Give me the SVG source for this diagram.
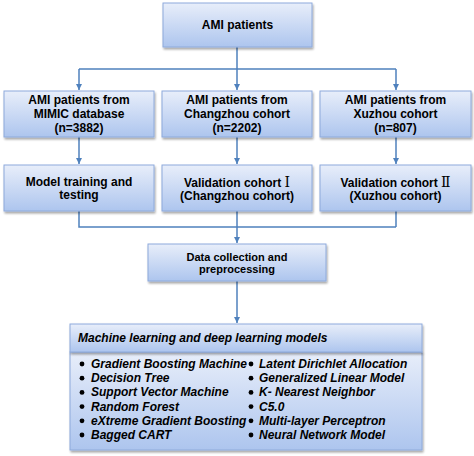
<svg xmlns="http://www.w3.org/2000/svg" width="474" height="456" viewBox="0 0 474 456">
<defs>
<linearGradient id="g" x1="0" y1="0" x2="0" y2="1">
<stop offset="0" stop-color="#e8eefa"/>
<stop offset="1" stop-color="#adc5ee"/>
</linearGradient>
<filter id="sh" x="-10%" y="-10%" width="120%" height="130%">
<feGaussianBlur in="SourceAlpha" stdDeviation="1"/>
<feOffset dx="1" dy="1.5" result="b"/>
<feComponentTransfer><feFuncA type="linear" slope="0.35"/></feComponentTransfer>
<feMerge><feMergeNode/><feMergeNode in="SourceGraphic"/></feMerge>
</filter>
<marker id="ar" markerWidth="7" markerHeight="6" refX="6" refY="3" orient="auto" markerUnits="userSpaceOnUse">
<path d="M0,0 L6,3 L0,6 z" fill="#4f81bd"/>
</marker>
</defs>
<style>
.box{fill:url(#g);stroke:#8eaadb;stroke-width:1;filter:url(#sh)}
.t{font-family:"Liberation Sans",Arial,sans-serif;font-weight:bold;font-size:12px;fill:#000;text-anchor:middle}
.s{font-size:11px}
.it{font-family:"Liberation Sans",Arial,sans-serif;font-weight:bold;font-style:italic;font-size:12px;fill:#000}
.rn{font-family:"DejaVu Serif","Liberation Serif","Noto Sans CJK SC",serif;font-weight:normal;font-size:14px}
.c{stroke:#4f81bd;stroke-width:1.5;fill:none}
</style>
<g id="connectors">
<path class="c" d="M237,47 V69 M79,69 H396"/>
<path class="c" d="M79,69 V90" marker-end="url(#ar)"/>
<path class="c" d="M237,69 V90" marker-end="url(#ar)"/>
<path class="c" d="M396,69 V90" marker-end="url(#ar)"/>
<path class="c" d="M79,137 V164" marker-end="url(#ar)"/>
<path class="c" d="M237,137 V164" marker-end="url(#ar)"/>
<path class="c" d="M396,137 V164" marker-end="url(#ar)"/>
<path class="c" d="M79,211 V227 H396 M396,211 V227"/>
<path class="c" d="M237,211 V243" marker-end="url(#ar)"/>
<path class="c" d="M237,281 V323" marker-end="url(#ar)"/>
</g>
<g id="ami">
<rect class="box" x="163" y="3" width="149" height="44"/>
<text class="t" x="237.5" y="29">AMI patients</text>
</g>
<g id="mimic">
<rect class="box" x="4" y="91" width="150" height="46"/>
<text class="t" x="79" y="104">AMI patients from</text>
<text class="t" x="79" y="118">MIMIC database</text>
<text class="t" x="79" y="132">(n=3882)</text>
</g>
<g id="changzhou">
<rect class="box" x="162" y="91" width="150" height="46"/>
<text class="t" x="237" y="104">AMI patients from</text>
<text class="t" x="237" y="118">Changzhou cohort</text>
<text class="t" x="237" y="132">(n=2202)</text>
</g>
<g id="xuzhou">
<rect class="box" x="320" y="91" width="151" height="46"/>
<text class="t" x="395.5" y="104">AMI patients from</text>
<text class="t" x="395.5" y="118">Xuzhou cohort</text>
<text class="t" x="395.5" y="132">(n=807)</text>
</g>
<g id="training">
<rect class="box" x="4" y="165" width="150" height="46"/>
<text class="t" x="79" y="186">Model training and</text>
<text class="t" x="79" y="199">testing</text>
</g>
<g id="val1">
<rect class="box" x="162" y="165" width="150" height="46"/>
<text class="t" x="237" y="187">Validation cohort <tspan class="rn">Ⅰ</tspan></text>
<text class="t" x="237" y="200">(Changzhou cohort)</text>
</g>
<g id="val2">
<rect class="box" x="320" y="165" width="151" height="46"/>
<text class="t" x="395.5" y="187">Validation cohort <tspan class="rn">Ⅱ</tspan></text>
<text class="t" x="395.5" y="200">(Xuzhou cohort)</text>
</g>
<g id="data">
<rect class="box" x="148" y="244" width="178" height="37"/>
<text class="t s" x="237" y="260.5">Data collection and</text>
<text class="t s" x="237" y="272.5">preprocessing</text>
</g>
<g id="models">
<rect class="box" x="70" y="352" width="352" height="98"/>
<rect class="box" x="70" y="324" width="352" height="28"/>
<text class="it" x="78" y="342">Machine learning and deep learning models</text>
<g fill="#000">
<circle cx="82" cy="364" r="2.4"/><circle cx="82" cy="378.2" r="2.4"/><circle cx="82" cy="392.4" r="2.4"/><circle cx="82" cy="406.6" r="2.4"/><circle cx="82" cy="420.8" r="2.4"/><circle cx="82" cy="435" r="2.4"/>
<circle cx="251" cy="364" r="2.4"/><circle cx="251" cy="378.2" r="2.4"/><circle cx="251" cy="392.4" r="2.4"/><circle cx="251" cy="406.6" r="2.4"/><circle cx="251" cy="420.8" r="2.4"/><circle cx="251" cy="435" r="2.4"/>
</g>
<text class="it" x="91" y="368">Gradient Boosting Machine</text>
<text class="it" x="91" y="382.2">Decision Tree</text>
<text class="it" x="91" y="396.4">Support Vector Machine</text>
<text class="it" x="91" y="410.6">Random Forest</text>
<text class="it" x="91" y="424.8">eXtreme Gradient Boosting</text>
<text class="it" x="91" y="439">Bagged CART</text>
<text class="it" x="259" y="368">Latent Dirichlet Allocation</text>
<text class="it" x="259" y="382.2">Generalized Linear Model</text>
<text class="it" x="259" y="396.4">K- Nearest Neighbor</text>
<text class="it" x="259" y="410.6">C5.0</text>
<text class="it" x="259" y="424.8">Multi-layer Perceptron</text>
<text class="it" x="259" y="439">Neural Network Model</text>
</g>
</svg>
